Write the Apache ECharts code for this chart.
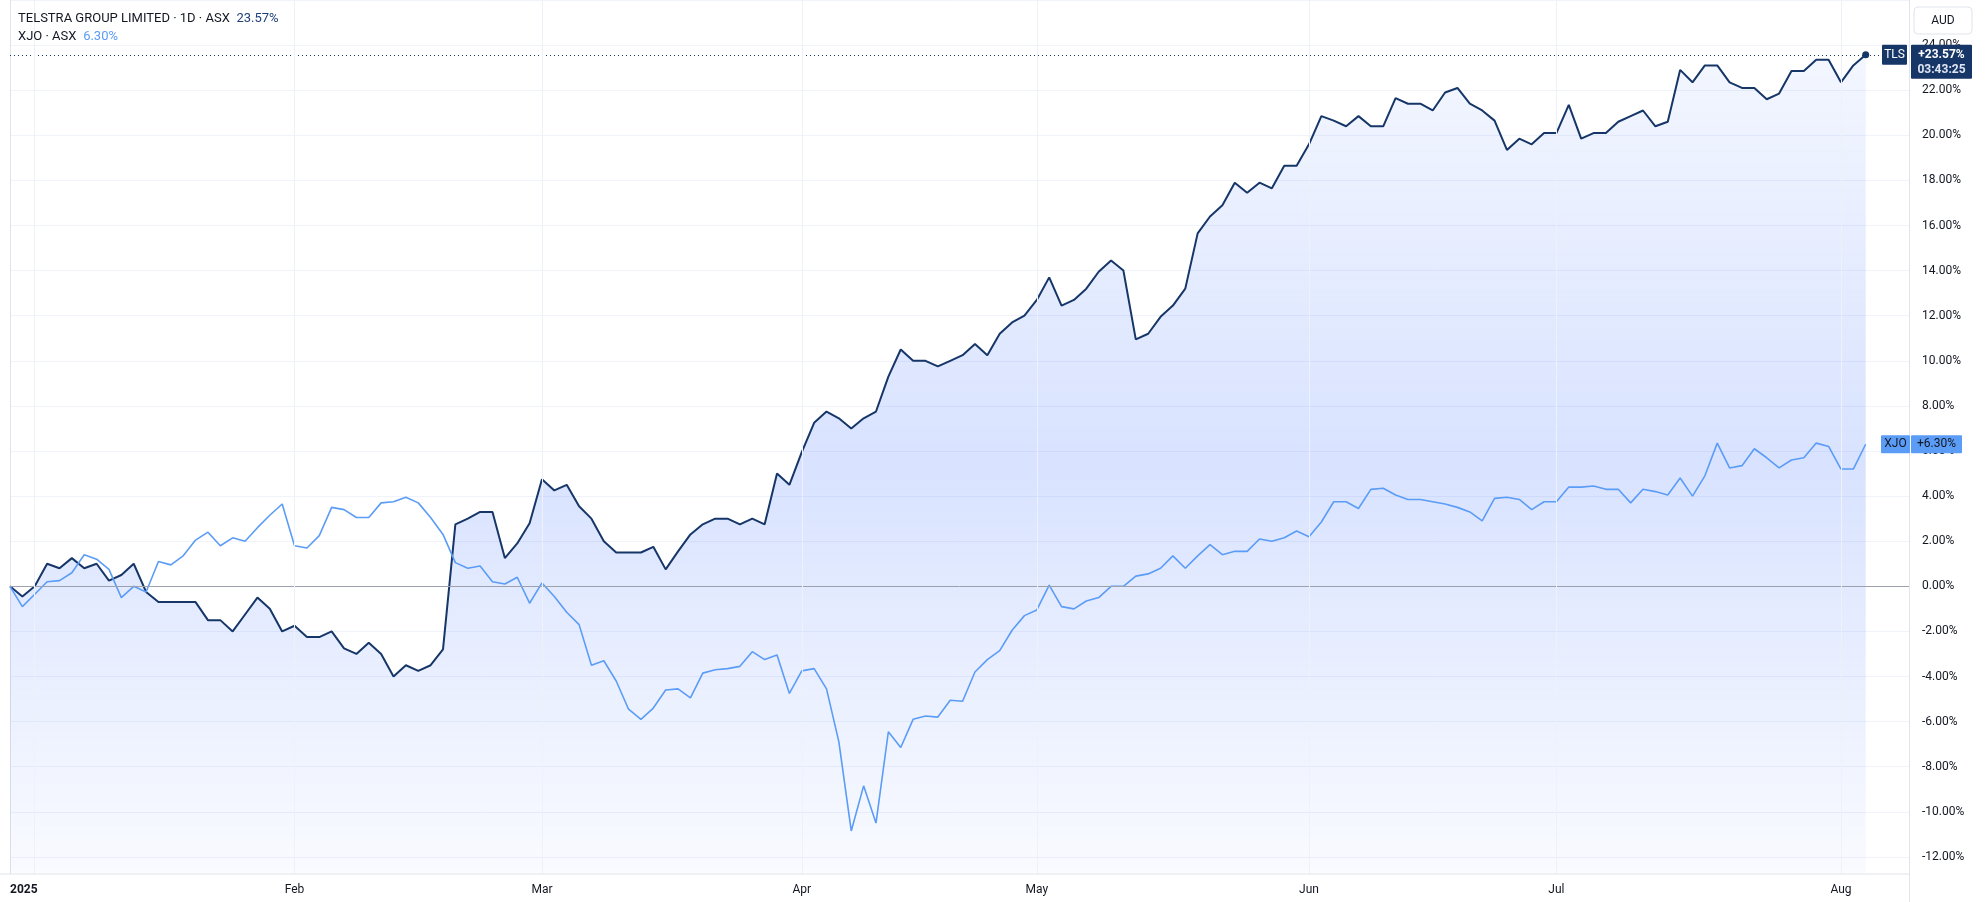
<!DOCTYPE html>
<html><head><meta charset="utf-8">
<script src="https://cdn.jsdelivr.net/npm/echarts@6/dist/echarts.min.js"></script>
<style>html,body{margin:0;padding:0;background:#fff}#c{width:1986px;height:902px}</style>
</head><body><div id="c"></div>
<script>
const tls = [0,-0.45,0,1.0,0.8,1.25,0.8,1.0,0.25,0.5,1.0,
-0.25,-0.7,-0.7,-0.7,-0.7,-1.5,-1.5,-2.0,-1.25,-0.5,
-1.0,-2.0,-1.75,-2.25,-2.25,-2.0,-2.75,-3.0,-2.5,-3.0,
-4.0,-3.5,-3.75,-3.5,-2.8,2.75,3.0,3.3,3.3,1.25,
1.9,2.8,4.75,4.25,4.5,3.55,3.0,2.0,1.5,1.5,
1.5,1.75,0.75,1.55,2.3,2.75,3.0,3.0,2.75,3.0,
2.75,5.0,4.5,5.95,7.25,7.75,7.45,7.0,7.45,7.75,
9.3,10.5,10.0,10.0,9.75,10.0,10.25,10.75,10.25,11.2,
11.7,12.0,12.7,13.7,12.45,12.7,13.2,13.95,14.45,14.0,
10.95,11.2,11.95,12.45,13.2,15.65,16.4,16.9,17.9,17.45,
17.9,17.65,18.65,18.65,19.6,20.85,20.65,20.4,20.85,20.4,
20.4,21.65,21.4,21.4,21.1,21.9,22.1,21.4,21.1,20.65,
19.35,19.85,19.6,20.1,20.1,21.35,19.85,20.1,20.1,20.6,
20.85,21.1,20.4,20.6,22.9,22.35,23.1,23.1,22.35,22.1,
22.1,21.6,21.85,22.85,22.85,23.35,23.35,22.35,23.1,23.57];
const xjo = [0,-0.9,-0.35,0.2,0.25,0.6,1.4,1.2,0.75,-0.5,0,
-0.25,1.1,0.95,1.35,2.05,2.4,1.8,2.15,2.0,2.6,
3.15,3.65,1.8,1.7,2.25,3.5,3.4,3.05,3.05,3.7,
3.75,3.95,3.7,3.05,2.3,1.05,0.8,0.9,0.2,0.1,
0.4,-0.75,0.15,-0.45,-1.15,-1.7,-3.5,-3.3,-4.2,-5.45,
-5.9,-5.4,-4.6,-4.55,-4.95,-3.85,-3.7,-3.65,-3.55,-2.9,
-3.25,-3.05,-4.75,-3.75,-3.65,-4.55,-6.9,-10.85,-8.85,-10.5,
-6.45,-7.15,-5.9,-5.75,-5.8,-5.05,-5.1,-3.8,-3.25,-2.85,
-1.95,-1.3,-1.05,0.05,-0.9,-1.0,-0.65,-0.5,0,0,
0.45,0.55,0.8,1.35,0.8,1.35,1.85,1.4,1.55,1.55,
2.1,2.0,2.15,2.45,2.2,2.85,3.75,3.75,3.45,4.3,
4.35,4.05,3.85,3.85,3.75,3.65,3.5,3.3,2.9,3.9,
3.95,3.85,3.4,3.75,3.75,4.4,4.4,4.45,4.3,4.3,
3.7,4.3,4.2,4.05,4.8,4.0,4.9,6.35,5.25,5.35,
6.1,5.7,5.25,5.6,5.7,6.35,6.2,5.2,5.2,6.3];
const monthIdx = [2,23,43,64,83,105,125,148];
const monthLabels = ['2025','Feb','Mar','Apr','May','Jun','Jul','Aug'];
const tlsName = 'TELSTRA GROUP LIMITED · 1D · ASX', xjoName = 'XJO · ASX';
const tlsLast = '+23.57%', tlsTime = '03:43:25', xjoLast = '+6.30%';

const NAVY = '#163668', LBLUE = '#5b9cf6';
const chart = echarts.init(document.getElementById('c'));
const pairs = a => a.map((v,i)=>[i,v]);
chart.setOption({
  animation:false,
  grid:{left:10,width:1899,top:-11.7,height:918},
  xAxis:{type:'value',min:0,max:153.5,axisLine:{show:false},axisTick:{show:false},axisLabel:{show:false},splitLine:{show:false}},
  yAxis:{type:'value',position:'right',min:-14,max:26,interval:2,
    axisLine:{show:true,lineStyle:{color:'#e0e3eb'}},axisTick:{show:false},
    axisLabel:{color:'#131722',fontSize:12,fontFamily:'Roboto',margin:13,showMaxLabel:false,showMinLabel:false,formatter:v=>v.toFixed(2)+'%'},
    splitLine:{lineStyle:{color:'#f0f3fa'}}},
  series:[
    {type:'line',data:pairs(tls),showSymbol:false,z:3,lineStyle:{color:NAVY,width:2},
     areaStyle:{origin:-12.7,color:new echarts.graphic.LinearGradient(0,0,0,1,[
       {offset:0,color:'rgba(41,98,255,0.08)'},{offset:0.5,color:'rgba(41,98,255,0.26)'},{offset:1,color:'rgba(41,98,255,0.04)'}])},
     markLine:{silent:true,symbol:'none',label:{show:false},data:[
       {yAxis:tls[tls.length-1],lineStyle:{color:NAVY,type:[1,3],width:1}},
       {yAxis:0,lineStyle:{color:'#9da1ad',type:'solid',width:1}},
       ...monthIdx.map(i=>({xAxis:i,lineStyle:{color:'#eef1f7',type:'solid',width:1}}))]},
     markPoint:{silent:true,symbol:'circle',symbolSize:7,itemStyle:{color:NAVY},label:{show:false},
       data:[{coord:[tls.length-1,tls[tls.length-1]]}]}},
    {type:'line',data:pairs(xjo),showSymbol:false,z:4,lineStyle:{color:LBLUE,width:1.6}}
  ]
});
const P = (i,v)=>chart.convertToPixel({xAxisIndex:0,yAxisIndex:0},[i,v]);
const yT = P(0,tls[tls.length-1])[1], yX = P(0,xjo[xjo.length-1])[1];
const axisX = P(153.5,0)[0];
const g = [];
g.push({type:'rect',shape:{x:0,y:874,width:axisX,height:30},style:{fill:'#fff'},z:50});
g.push({type:'line',shape:{x1:0,y1:874,x2:axisX,y2:874},style:{stroke:'#e0e3eb',lineWidth:1},z:51});
g.push({type:'line',shape:{x1:axisX+0.5,y1:0,x2:axisX+0.5,y2:902},style:{stroke:'#e0e3eb',lineWidth:1},z:51});
monthIdx.forEach((idx,k)=>{
  const x = P(idx,0)[0];
  g.push({type:'text',x:k===0?10:x,y:890,z:52,style:{text:monthLabels[k],fill:'#131722',font:(k===0?'bold ':'')+'12px Roboto',
    align:k===0?'left':'center',verticalAlign:'middle'}});
});
g.push({type:'text',x:18,y:19,z:60,style:{rich:{a:{fill:'#131722',font:'13px Roboto'},b:{fill:'#1f3f7a',font:'13px Roboto'}},
  text:'{a|'+tlsName+'}  {b|23.57%}',verticalAlign:'middle'}});
g.push({type:'text',x:18,y:37,z:60,style:{rich:{a:{fill:'#131722',font:'13px Roboto'},b:{fill:LBLUE,font:'13px Roboto'}},
  text:'{a|'+xjoName+'}  {b|6.30%}',verticalAlign:'middle'}});
g.push({type:'rect',shape:{x:1914,y:7,width:58,height:27,r:4},style:{fill:'#fff',stroke:'#e0e3eb'},z:60});
g.push({type:'text',x:1943,y:20.5,z:61,style:{text:'AUD',fill:'#131722',font:'12px Roboto',align:'center',verticalAlign:'middle'}});
g.push({type:'rect',shape:{x:1882,y:yT-10,width:25,height:20,r:1},style:{fill:NAVY},z:60});
g.push({type:'text',x:1894.5,y:yT,z:61,style:{text:'TLS',fill:'#fff',font:'12px Roboto',align:'center',verticalAlign:'middle'}});
g.push({type:'rect',shape:{x:1911,y:yT-10,width:61,height:34,r:1},style:{fill:NAVY},z:60});
g.push({type:'text',x:1941.5,y:yT,z:61,style:{text:tlsLast,fill:'#fff',font:'bold 12px Roboto',align:'center',verticalAlign:'middle'}});
g.push({type:'text',x:1941.5,y:yT+15,z:61,style:{text:tlsTime,fill:'#dfe6f3',font:'bold 12px Roboto',align:'center',verticalAlign:'middle'}});
g.push({type:'rect',shape:{x:1881,y:yX-9,width:29,height:18,r:1},style:{fill:LBLUE},z:60});
g.push({type:'text',x:1895.5,y:yX,z:61,style:{text:'XJO',fill:'#131722',font:'12px Roboto',align:'center',verticalAlign:'middle'}});
g.push({type:'rect',shape:{x:1911,y:yX-9,width:51,height:18,r:1},style:{fill:LBLUE},z:60});
g.push({type:'text',x:1936.5,y:yX,z:61,style:{text:xjoLast,fill:'#131722',font:'12px Roboto',align:'center',verticalAlign:'middle'}});
chart.setOption({graphic:g});
</script></body></html>
